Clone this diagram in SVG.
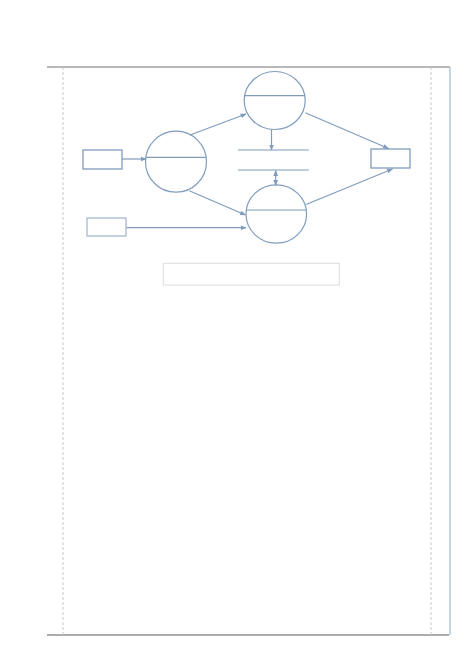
<svg xmlns="http://www.w3.org/2000/svg" width="474" height="670" viewBox="0 0 474 670">
<style>
.s{fill:none;stroke:#7f9cbd;stroke-width:1.2}
.b{fill:#fff;stroke:#7f9cbd;stroke-width:1.3}
.c{fill:none;stroke:#7f9cbd;stroke-width:1.2}
</style>
<defs>
<marker id="a" viewBox="0 0 10 10" refX="9" refY="5" markerWidth="6" markerHeight="6" orient="auto-start-reverse" markerUnits="userSpaceOnUse">
<path d="M0,1 L10,5 L0,9 Z" fill="#7f9cbd"/>
</marker>
</defs>
<rect width="474" height="670" fill="#fff"/>
<g id="page">
<line x1="47" y1="67" x2="450" y2="67" stroke="#a0a0a0" stroke-width="1.5"/>
<line x1="47" y1="635" x2="449" y2="635" stroke="#909090" stroke-width="1.5"/>
<line x1="450" y1="67" x2="450" y2="635" stroke="#b4c6da" stroke-width="1.5"/>
<line x1="63" y1="67" x2="63" y2="635" stroke="#c8c8c8" stroke-width="1" stroke-dasharray="3,2"/>
<line x1="431" y1="67" x2="431" y2="635" stroke="#c8c8c8" stroke-width="1" stroke-dasharray="3,2"/>
</g>
<g id="box1"><rect x="83" y="150" width="39" height="19" class="b"/></g>
<g id="box2"><rect x="87" y="218" width="39" height="18" fill="#fff" stroke="#9fb3ca" stroke-width="1.2"/></g>
<g id="box3"><rect x="371" y="149" width="39" height="19" class="b"/></g>
<g id="proc1"><circle cx="176" cy="161.7" r="30.5" class="c"/><line x1="146" y1="157.3" x2="206" y2="157.3" class="s"/></g>
<g id="proc2"><ellipse cx="274.7" cy="100.5" rx="30.5" ry="29" class="c"/><line x1="244.5" y1="95.7" x2="305" y2="95.7" class="s"/></g>
<g id="proc3"><ellipse cx="276.3" cy="214" rx="30.3" ry="29.2" class="c"/><line x1="246" y1="210" x2="306.5" y2="210" class="s"/></g>
<g id="store"><line x1="238" y1="150" x2="309" y2="150" class="s"/><line x1="238" y1="170" x2="309" y2="170" class="s"/></g>
<g id="note"><rect x="163.3" y="263.3" width="176" height="21.7" fill="none" stroke="#dcdcdc" stroke-width="1"/></g>
<g id="connectors">
<line x1="122" y1="159" x2="146" y2="159" class="s" marker-end="url(#a)"/>
<line x1="126.5" y1="227.7" x2="246" y2="227.7" class="s" marker-end="url(#a)"/>
<line x1="190" y1="135" x2="246" y2="114" class="s" marker-end="url(#a)"/>
<line x1="189.3" y1="190.7" x2="245.5" y2="215" class="s" marker-end="url(#a)"/>
<line x1="271.5" y1="129.5" x2="271.5" y2="150" class="s" marker-end="url(#a)"/>
<line x1="275.7" y1="170.5" x2="275.7" y2="185.5" class="s" marker-start="url(#a)" marker-end="url(#a)"/>
<line x1="305.3" y1="112.7" x2="388.5" y2="148.5" class="s" marker-end="url(#a)"/>
<line x1="306" y1="204.5" x2="392.5" y2="169" class="s" marker-end="url(#a)"/>
</g>
</svg>
